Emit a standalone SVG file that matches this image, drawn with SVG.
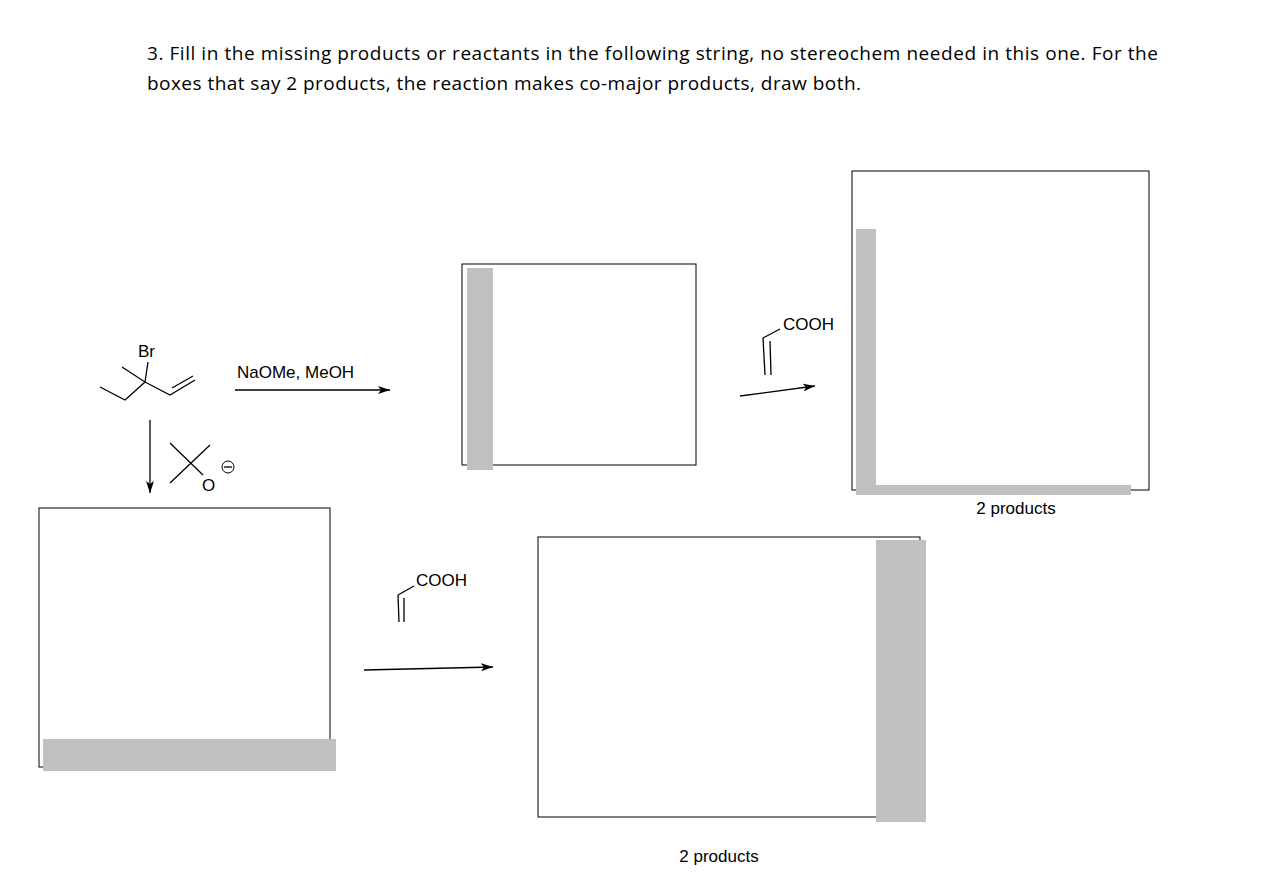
<svg xmlns="http://www.w3.org/2000/svg" width="1274" height="892" viewBox="0 0 1274 892">
<style>
.b{fill:#fff;stroke:#000;stroke-width:1}
.g{fill:#c0c0c0}
.l{stroke:#000;stroke-width:1.3;fill:none}
.t{font-family:"Liberation Sans",Arial,sans-serif;font-size:17px}
.h{font-family:"Open Sans","Liberation Sans",sans-serif;font-size:19px}
</style>
<defs><marker id="a" markerWidth="12" markerHeight="8" refX="12" refY="4" orient="auto" markerUnits="userSpaceOnUse"><path d="M0,0 L12,4 L0,8 L3,4 Z" fill="#000"/></marker></defs>
<rect width="1274" height="892" fill="#fff"/>
<text class="h" x="147" y="60" textLength="1011">3.  Fill in the missing products or reactants in the following string, no stereochem needed in this one.  For the</text>
<text class="h" x="147" y="90" textLength="714">boxes that say 2 products, the reaction makes co-major products, draw both.</text>
<g id="sm"><path class="l" d="M148,362 L145,382 M122,367 L145,382 L125,400 L100,387 M145,382 L170,395 L195,380 M172,388 L193,376"/><text class="t" x="138" y="357">Br</text></g>
<g id="tbuo"><path class="l" d="M170,443 L203,475 M170,483 L210,445"/><text class="t" x="202" y="491">O</text><circle cx="228" cy="467" r="6" fill="none" stroke="#000"/><path class="l" d="M224,467 H232"/></g>
<g id="c1"><path class="l" d="M763,338 L780,329 M763,338 L765,375 M770,341 L771,375"/><text class="t" x="783" y="330">COOH</text></g>
<g id="c2"><path class="l" d="M398,595 L414,586 M398,595 L399,622 M404,598 L404,622"/><text class="t" x="416" y="586">COOH</text></g>
<g id="box1"><rect class="b" x="462" y="264" width="234" height="201"/><rect class="g" x="467" y="268" width="26" height="202"/></g>
<g id="box2"><rect class="b" x="852" y="171" width="297" height="319"/><rect class="g" x="856" y="229" width="20" height="266"/><rect class="g" x="856" y="485" width="275" height="10"/><text class="t" x="1016" y="514" text-anchor="middle">2 products</text></g>
<g id="box3"><rect class="b" x="39" y="508" width="291" height="259"/><rect class="g" x="43" y="739" width="293" height="32"/></g>
<g id="box4"><rect class="b" x="538" y="537" width="382" height="280"/><rect class="g" x="876" y="540" width="50" height="282"/><text class="t" x="719" y="862" text-anchor="middle">2 products</text></g>
<g id="connectors">
<path class="l" d="M235,390 H390" marker-end="url(#a)"/><text class="t" x="237" y="378">NaOMe, MeOH</text>
<path class="l" d="M150,420 V493" marker-end="url(#a)"/>
<path class="l" d="M740,396 L815,386" marker-end="url(#a)"/>
<path class="l" d="M364,670 L493,667" marker-end="url(#a)"/>
</g>
</svg>
